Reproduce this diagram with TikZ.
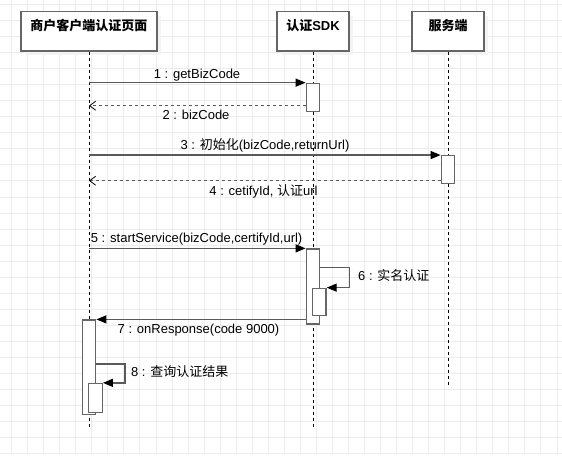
\documentclass[tikz,border=0pt]{standalone}
\usepackage{fontspec}
\setmainfont{Liberation Sans}
\newfontfamily\cjk{Noto Sans CJK SC}
\usetikzlibrary{arrows.meta}
\newcommand{\zh}[1]{{\cjk #1}}
\definecolor{gridc}{RGB}{236,236,236}
\definecolor{edgec}{RGB}{102,102,102}
\definecolor{msgc}{RGB}{90,90,90}
\definecolor{shadowc}{RGB}{243,243,243}
\begin{document}
\begin{tikzpicture}[x=1pt,y=-1pt,
  font=\fontsize{13}{15}\selectfont,
  actorbox/.style={draw=edgec, line width=1.3pt, fill=white, minimum width=136pt, minimum height=39.3pt, inner sep=0pt},
  actbox/.style={draw=edgec, line width=1.3pt, fill=white, minimum width=13.5pt, inner sep=0pt},
  lifeline/.style={draw=black, line width=0.9pt, dash pattern=on 3pt off 3pt},
  msg/.style={draw=msgc, line width=1.4pt, -{Triangle[length=10pt,width=8pt,fill=black,color=black]}},
  retmsg/.style={draw=msgc, line width=1.2pt, dash pattern=on 3pt off 3pt, -{Straight Barb[length=6pt,width=9pt,line width=0.8pt,color=black]}},
  lbl/.style={inner sep=0pt, anchor=base},
  lblw/.style={inner sep=0pt, anchor=base west},
  title/.style={inner sep=0pt, anchor=base, font=\fontsize{13}{15}\selectfont\bfseries}
]
\useasboundingbox (0,0) rectangle (562,455);
\fill[white] (0,0) rectangle (562,455);
% grid
\foreach \i in {0,...,34} \draw[gridc, line width=0.7pt] ({11.5+16.04*\i},0) -- ({11.5+16.04*\i},455);
\foreach \j in {0,...,28} \draw[gridc, line width=0.7pt] (0,{4.4+16.04*\j}) -- (562,{4.4+16.04*\j});
% shadows
\fill[shadowc] (25,16) rectangle (161,55);
\fill[shadowc] (281,16) rectangle (353,55);
\fill[shadowc] (416,16) rectangle (488,55);
% actor boxes
\node[actorbox] (c) at (89,31.3) {};
\node[actorbox, minimum width=72pt] (s) at (313,31.3) {};
\node[actorbox, minimum width=72pt] (v) at (448,31.3) {};
\node[title] (tc) at (89,30) {\zh{商户客户端认证页面}};
\node[title] (ts) at (313,30) {\zh{认证}SDK};
\node[title] (tv) at (448,30) {\zh{服务端}};
% lifelines
\coordinate (cend) at (89,426.7);
\coordinate (send) at (313,426.7);
\coordinate (vend) at (448,385);
\draw[lifeline] (c.south) -- (cend);
\draw[lifeline] (s.south) -- (send);
\draw[lifeline] (v.south) -- (vend);
% activations
\node[actbox, minimum height=28.4pt] (a1) at (313,97.5) {};
\node[actbox, minimum height=27.6pt] (v1) at (448,169.5) {};
\node[actbox, minimum height=75pt] (a2) at (313,286.5) {};
\node[actbox, minimum height=27.4pt] (a3) at (319.3,302) {};
\node[actbox, minimum height=94.3pt] (c2) at (89,367.2) {};
\node[actbox, minimum height=28.8pt] (c3) at (95.5,397.9) {};
% message levels
\coordinate (y2) at (0,105.7);
\coordinate (y4) at (0,180.7);
\coordinate (k6) at (349.5,267.3);
\coordinate (k8) at (125,364);
% messages
\draw[msg] (c |- a1.north west) -- (a1.north west);
\draw[retmsg] (a1.west |- y2) -- (c |- y2);
\draw[msg] (c |- v1.north west) -- (v1.north west);
\draw[retmsg] (v1.west |- y4) -- (c |- y4);
\draw[msg] (c |- a2.north west) -- (a2.north west);
\draw[msg] (a2.east |- k6) -- (k6) |- (a3.north east);
\draw[msg] (a2.west |- c2.north) -- (c2.north east);
\draw[msg] (c2.east |- k8) -- (k8) |- (c3.north east);
% labels
\node[lbl] (l1) at (197,78) {1 : getBizCode};
\node[lbl] (l2) at (196,119.5) {2 : bizCode};
\node[lbl] (l3) at (265,149.5) {3 : \zh{初始化}(bizCode,returnUrl)};
\node[lbl] (l4) at (263.5,195) {4 : cetifyId, \zh{认证}url};
\node[lblw] (l5) at (90.7,242.8) {5 : startService(bizCode,certifyId,url)};
\node[lblw] (l6) at (358,280.5) {6 : \zh{实名认证}};
\node[lbl] (l7) at (198.5,333.8) {7 : onResponse(code 9000)};
\node[lblw] (l8) at (130.8,376.8) {8 : \zh{查询认证结果}};
\end{tikzpicture}
\end{document}
